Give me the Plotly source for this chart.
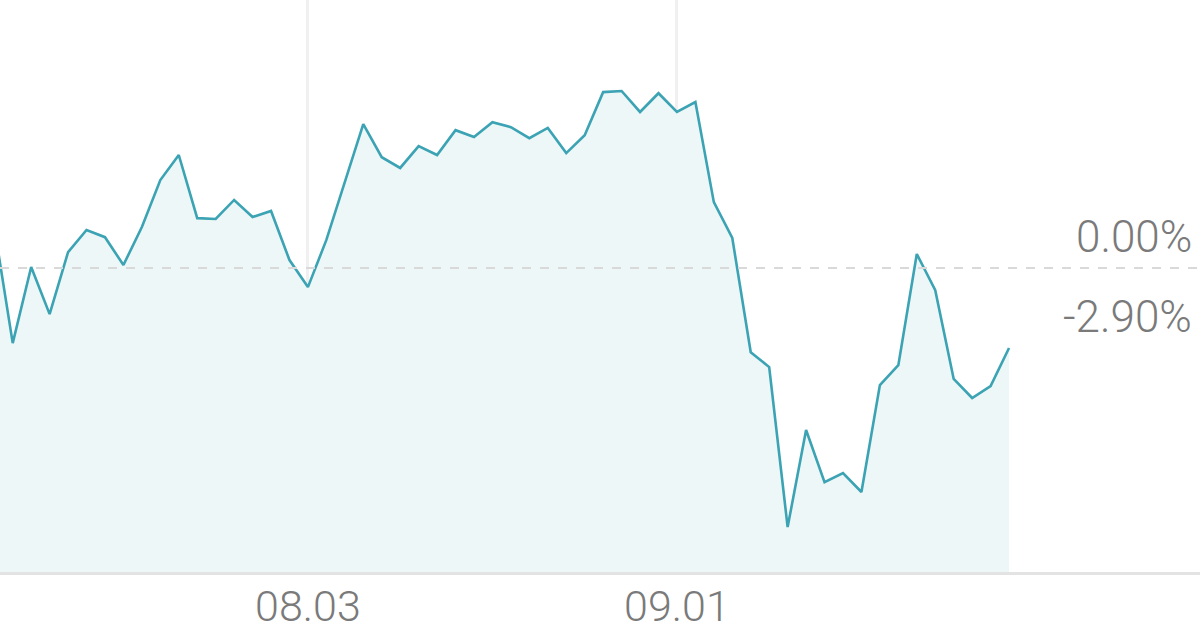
"""
Return-rate line chart (area under the line), mobile-style stock card.
Writes out.html.
"""
import plotly.graph_objects as go

# trading-day index along the x axis, one point per session
DAYS = list(range(56))
RETURN_PCT = [
    1.49, -2.72, 0.04, -1.67, 0.58, 1.38, 1.12, 0.11, 1.49, 3.19,
    4.10, 1.81, 1.78, 2.47, 1.85, 2.07, 0.29, -0.69, 1.02, 3.08,
    5.22, 4.02, 3.63, 4.42, 4.10, 5.00, 4.75, 5.29, 5.11, 4.71,
    5.08, 4.17, 4.82, 6.38, 6.42, 5.66, 6.34, 5.66, 6.02, 2.39,
    1.09, -3.05, -3.59, -9.39, -5.87, -7.76, -7.43, -8.12, -4.24, -3.52,
    0.51, -0.80, -4.02, -4.71, -4.28, -2.90,
]
TICK_DAYS = [17, 37]
TICK_LABELS = ["08.03", "09.01"]
LAST_LABEL = "-2.90%"

LINE = "#3ba3b3"
FILL = "#edf7f7"
TEXT = "#7a7a7a"

Y_RANGE = [-11.02, 9.72]
X_RANGE = [0.31, 65.35]

fig = go.Figure()

# invisible floor so the area fills down to the axis, not to zero
fig.add_trace(go.Scatter(
    x=DAYS, y=[Y_RANGE[0]] * len(DAYS), mode="lines",
    line=dict(width=0), hoverinfo="skip", showlegend=False,
))
fig.add_trace(go.Scatter(
    x=DAYS, y=RETURN_PCT, mode="lines",
    line=dict(color=LINE, width=2.6),
    fill="tonexty", fillcolor=FILL,
    showlegend=False,
    hovertemplate="%{y:.2f}%<extra></extra>",
))

# zero reference
fig.add_hline(y=0, line=dict(color="#d9d9d9", width=2, dash="dash"))

fig.add_annotation(
    text="0.00%", x=1, xref="paper", y=0, yref="y",
    xanchor="right", yanchor="bottom", xshift=-6, yshift=3,
    showarrow=False, font=dict(size=44, color=TEXT, weight=300),
)
fig.add_annotation(
    text=LAST_LABEL, x=1, xref="paper", y=0, yref="y",
    xanchor="right", yanchor="top", xshift=-6, yshift=-21,
    showarrow=False, font=dict(size=44, color=TEXT, weight=300),
)

fig.update_xaxes(
    range=X_RANGE, tickvals=TICK_DAYS, ticktext=TICK_LABELS,
    showgrid=True, gridcolor="#f0f0f0", gridwidth=3,
    zeroline=False, showline=True, linecolor="#e3e3e3", linewidth=3,
    ticks="", ticklen=0, ticklabelstandoff=-6,
    tickfont=dict(size=43, color=TEXT, weight=300),
    automargin=False, layer="below traces",
)
fig.update_yaxes(
    range=Y_RANGE, showgrid=False, zeroline=False,
    showticklabels=False, automargin=False,
)

fig.update_layout(
    width=1200, height=630,
    margin=dict(l=0, r=0, t=0, b=58),
    plot_bgcolor="white", paper_bgcolor="white",
    font=dict(family="Roboto, sans-serif"),
    hovermode="x",
)

# drop the page's default body margin so the card sits flush in the window
fig.write_html(
    "out.html",
    config={"displayModeBar": False},
    post_script="document.body.style.margin='0';",
)
